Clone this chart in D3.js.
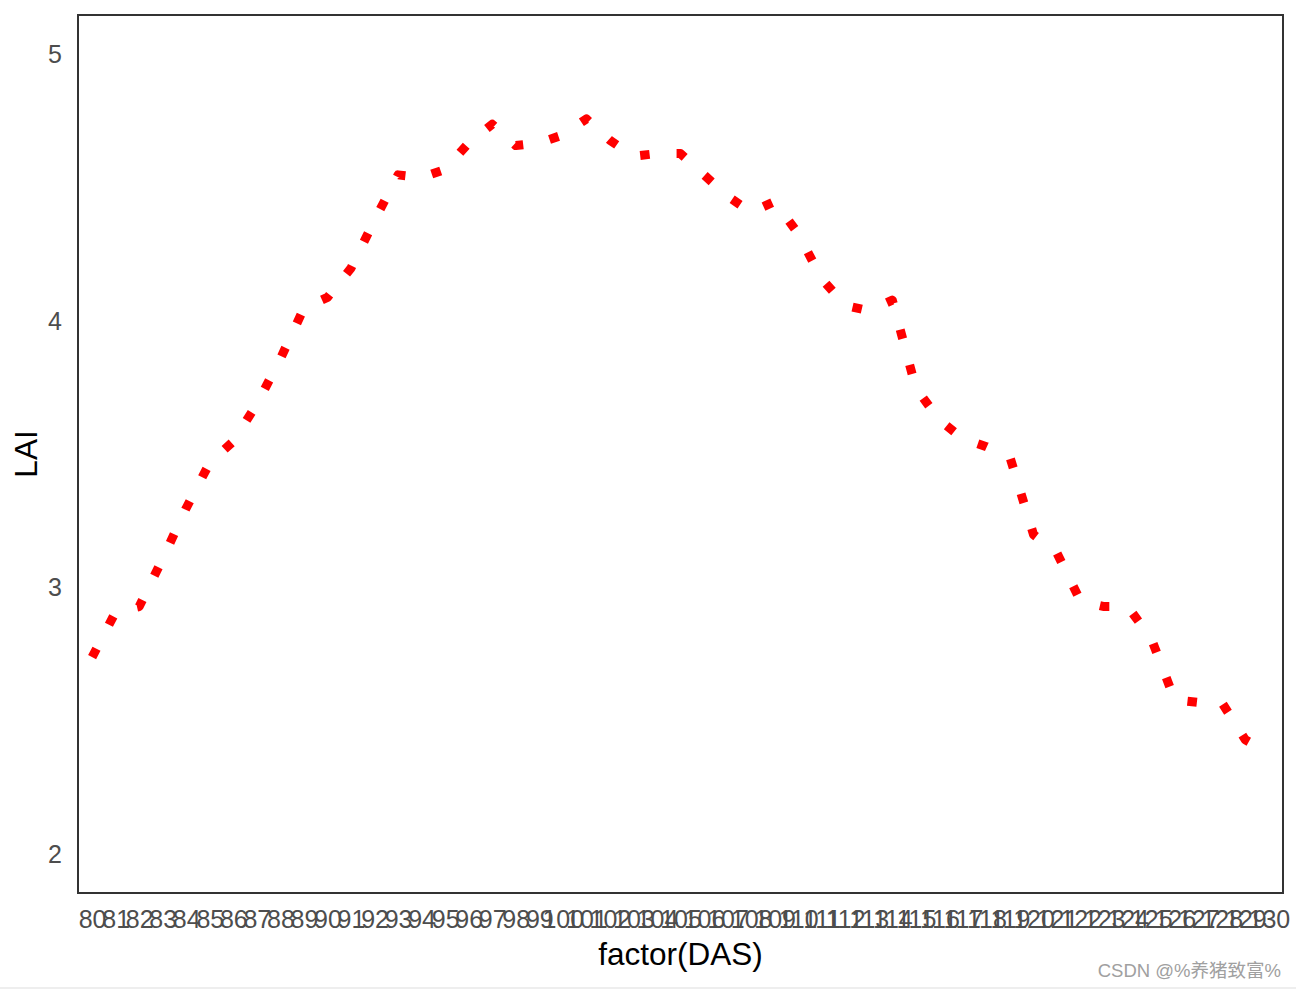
<!DOCTYPE html>
<html lang="en">
<head>
  <meta charset="UTF-8" />
  <title>LAI by DAS</title>
  <script src="https://d3js.org/d3.v7.min.js"></script>
  <style>
    body {
      margin: 0;
      background: #fff;
      font-family: "Liberation Sans", Arial, sans-serif;
    }
    svg {
      display: block;
    }
  </style>
</head>
<body>
  <svg id="chart" width="1296" height="989"></svg>
  <script>
    // DAS values (factor levels)
    const das = d3.range(80, 131).map(String);
    const lai = [
      2.74, 2.91, 2.93, 3.11, 3.30, 3.47, 3.55, 3.69, 3.86, 4.05,
      4.09, 4.20, 4.38, 4.55, 4.54, 4.57, 4.67, 4.74, 4.66, 4.67,
      4.70, 4.76, 4.68, 4.62, 4.63, 4.63, 4.55, 4.47, 4.41, 4.45,
      4.33, 4.16, 4.06, 4.04, 4.08, 3.75, 3.63, 3.56, 3.53, 3.49,
      3.20, 3.13, 2.95, 2.93, 2.93, 2.81, 2.58, 2.57, 2.57, 2.43,
      2.38
    ];
    const yTicks = [2, 3, 4, 5];

    const data = das.map((d, i) => ({ das: d, lai: lai[i] }));

    const svg = d3.select("#chart");
    const margin = { left: 78, right: 1283, top: 15, bottom: 893 };

    // ggplot discrete axis: 0.6 unit expansion each side
    const n = das.length;
    const unit = (margin.right - margin.left) / (n - 1 + 1.2);
    const x = d3.scalePoint()
      .domain(das)
      .range([margin.left + 0.6 * unit, margin.right - 0.6 * unit]);

    const y = d3.scaleLinear()
      .domain([1.855, 5.15])
      .range([margin.bottom, margin.top]);

    // x tick labels (no tick marks)
    const xAxis = svg.append("g")
      .attr("transform", `translate(0,${margin.bottom})`)
      .call(d3.axisBottom(x).tickSize(0).tickPadding(17));
    xAxis.select(".domain").remove();
    xAxis.selectAll("text")
      .attr("fill", "#4d4d4d")
      .attr("font-size", 25)
      .attr("font-family", "Liberation Sans, Arial, sans-serif");

    const yAxis = svg.append("g")
      .attr("transform", `translate(${margin.left},0)`)
      .call(d3.axisLeft(y).tickValues(yTicks).tickSize(0).tickPadding(16).tickFormat(d3.format("d")));
    yAxis.select(".domain").remove();
    yAxis.selectAll("text")
      .attr("fill", "#4d4d4d")
      .attr("font-size", 25)
      .attr("font-family", "Liberation Sans, Arial, sans-serif");

    // dotted line
    const line = d3.line()
      .x(d => x(d.das))
      .y(d => y(d.lai));

    svg.append("path")
      .datum(data)
      .attr("d", line)
      .attr("fill", "none")
      .attr("stroke", "#ff0000")
      .attr("stroke-width", 9)
      .attr("stroke-dasharray", "9.5 27")
      .attr("stroke-linejoin", "round");

    // panel border
    svg.append("rect")
      .attr("x", margin.left)
      .attr("y", margin.top)
      .attr("width", margin.right - margin.left)
      .attr("height", margin.bottom - margin.top)
      .attr("fill", "none")
      .attr("stroke", "#333333")
      .attr("stroke-width", 2);

    // axis titles
    svg.append("text")
      .attr("x", (margin.left + margin.right) / 2)
      .attr("y", 965)
      .attr("text-anchor", "middle")
      .attr("font-size", 31.5)
      .attr("fill", "#000")
      .text("factor(DAS)");

    svg.append("text")
      .attr("transform", `translate(37,${(margin.top + margin.bottom) / 2}) rotate(-90)`)
      .attr("text-anchor", "middle")
      .attr("font-size", 31.5)
      .attr("fill", "#000")
      .text("LAI");

    // watermark
    svg.append("text")
      .attr("x", 1281)
      .attr("y", 977)
      .attr("text-anchor", "end")
      .attr("font-size", 18.5)
      .attr("fill", "#a0a0a0")
      .attr("font-family", "Liberation Sans, 'Noto Sans CJK SC', sans-serif")
      .text("CSDN @%养猪致富%");

    svg.append("line")
      .attr("x1", 0).attr("x2", 1296)
      .attr("y1", 988).attr("y2", 988)
      .attr("stroke", "#eeeeee")
      .attr("stroke-width", 2);
  </script>
</body>
</html>
